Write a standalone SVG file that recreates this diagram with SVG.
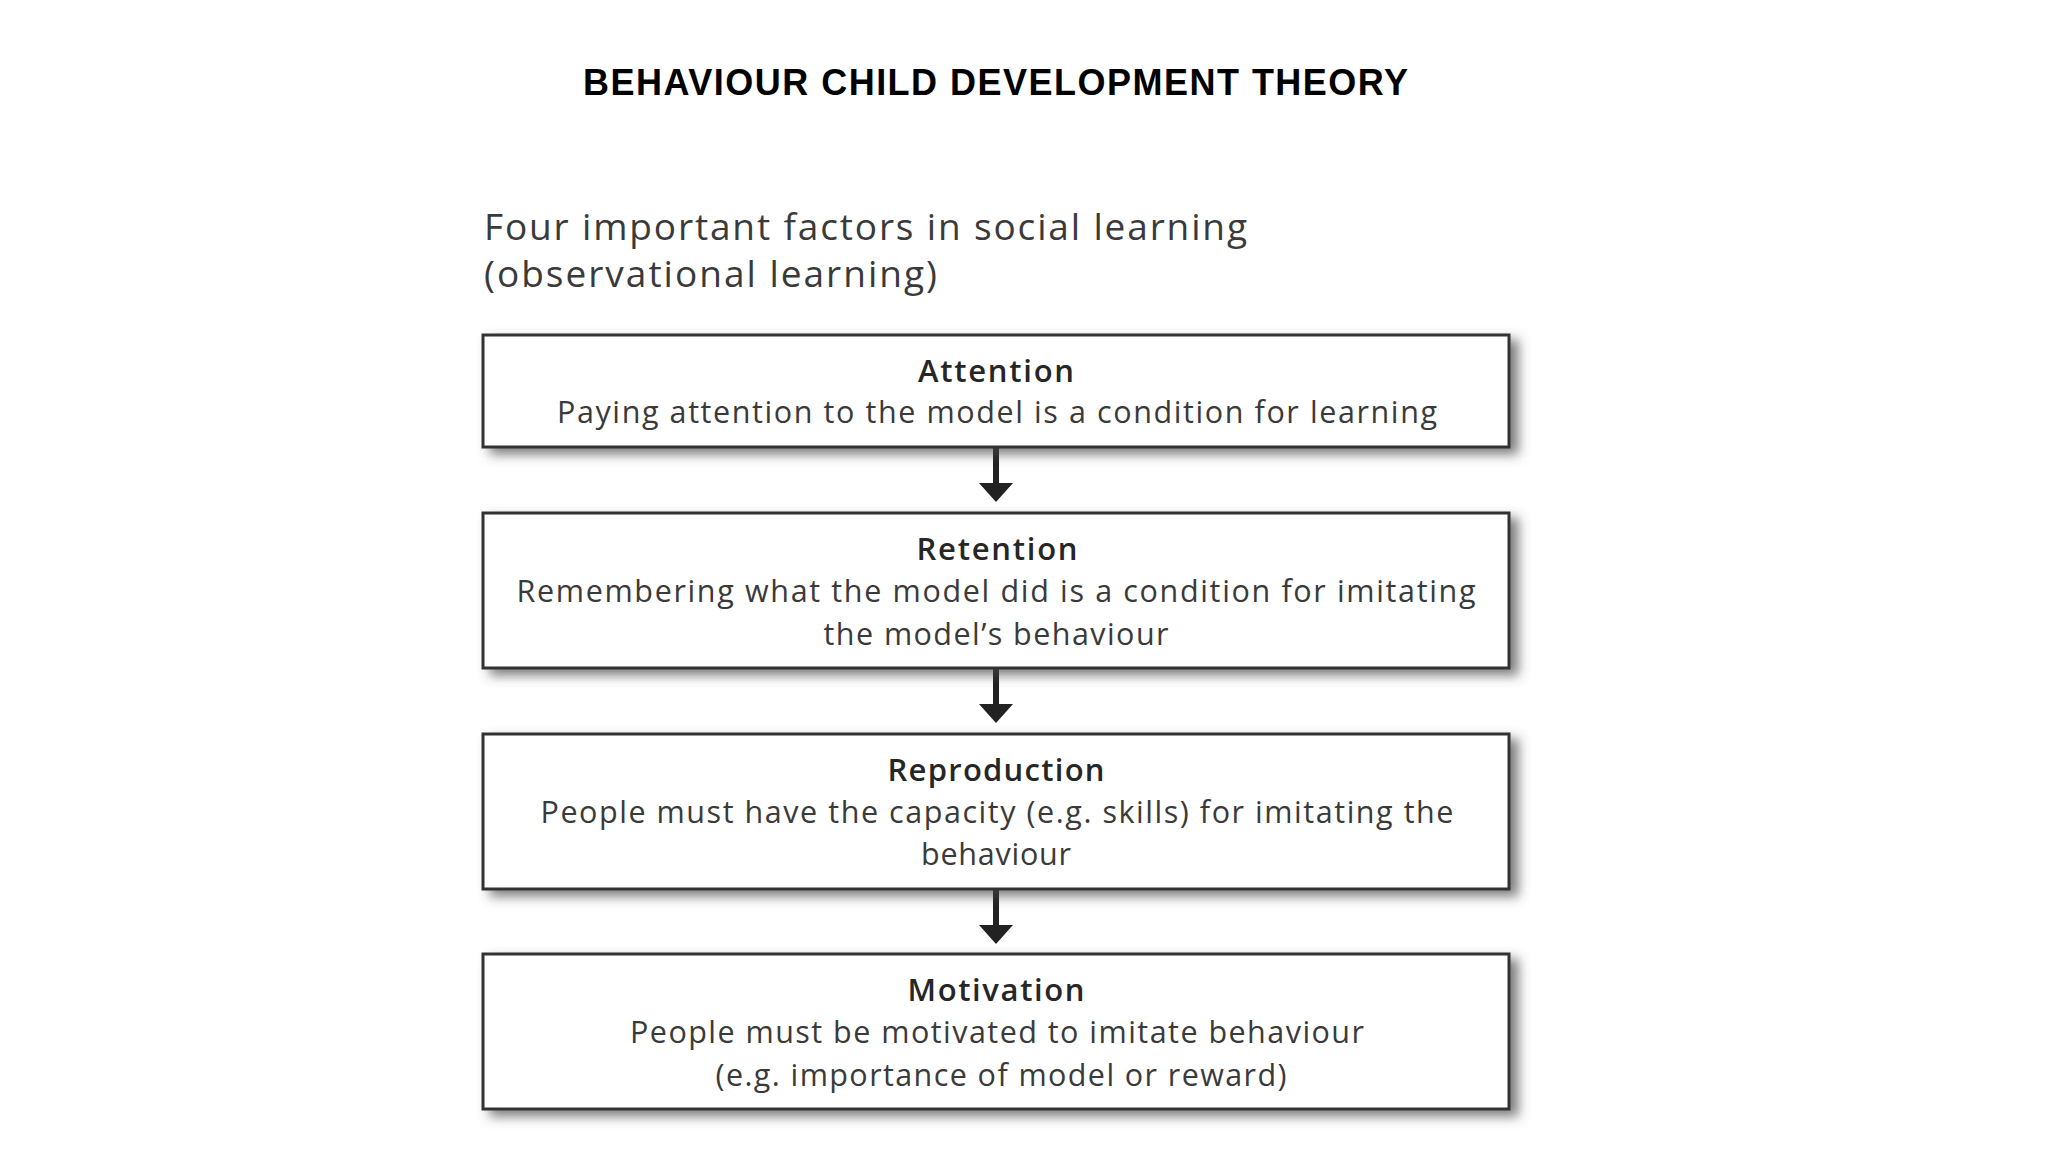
<svg xmlns="http://www.w3.org/2000/svg" width="2048" height="1152" viewBox="0 0 2048 1152">
  <defs>
    <filter id="shadow" x="-5%" y="-20%" width="115%" height="150%">
      <feDropShadow dx="8" dy="6" stdDeviation="6" flood-color="#444" flood-opacity="0.7"/>
    </filter>
  </defs>
  <style>
    .title { font-family: "Liberation Sans", Arial, sans-serif; font-weight: bold; font-size: 36px; fill: #000; }
    .intro { font-family: "Open Sans", "Noto Sans", sans-serif; font-size: 37px; fill: #3a3a3a; }
    .box { fill: #fff; stroke: #333; stroke-width: 3; filter: url(#shadow); }
    .head { font-family: "Open Sans", "Noto Sans", sans-serif; font-weight: 600; font-size: 31px; fill: #262626; text-anchor: middle; }
    .body { font-family: "Open Sans", "Noto Sans", sans-serif; font-size: 30.5px; fill: #3a3a3a; text-anchor: middle; }
    .conn { stroke: #222; stroke-width: 6; fill: none; }
  </style>
  <rect x="0" y="0" width="2048" height="1152" fill="#ffffff"/>

  <g id="title">
    <text class="title" x="583" y="95" textLength="825">BEHAVIOUR CHILD DEVELOPMENT THEORY</text>
  </g>

  <g id="intro">
    <text class="intro" x="484" y="240" textLength="763">Four important factors in social learning</text>
    <text class="intro" x="484" y="287" textLength="453">(observational learning)</text>
  </g>

  <g id="connectors">
    <line class="conn" x1="996" y1="448" x2="996" y2="485"/>
    <polygon points="979,483 1013,483 996,502" fill="#222"/>
    <line class="conn" x1="996" y1="669" x2="996" y2="706"/>
    <polygon points="979,704 1013,704 996,723" fill="#222"/>
    <line class="conn" x1="996" y1="890" x2="996" y2="927"/>
    <polygon points="979,925 1013,925 996,944" fill="#222"/>
  </g>

  <g id="attention">
    <rect class="box" x="483" y="335" width="1026" height="112"/>
    <text class="head" x="996" y="382" textLength="156">Attention</text>
    <text class="body" x="997" y="423" textLength="880">Paying attention to the model is a condition for learning</text>
  </g>

  <g id="retention">
    <rect class="box" x="483" y="513" width="1026" height="155"/>
    <text class="head" x="997" y="560" textLength="161">Retention</text>
    <text class="body" x="996" y="602" textLength="959">Remembering what the model did is a condition for imitating</text>
    <text class="body" x="996" y="645" textLength="345">the model’s behaviour</text>
  </g>

  <g id="reproduction">
    <rect class="box" x="483" y="734" width="1026" height="155"/>
    <text class="head" x="996" y="781" textLength="217">Reproduction</text>
    <text class="body" x="997" y="823" textLength="913">People must have the capacity (e.g. skills) for imitating the</text>
    <text class="body" x="996" y="865" textLength="150">behaviour</text>
  </g>

  <g id="motivation">
    <rect class="box" x="483" y="954" width="1026" height="155"/>
    <text class="head" x="996" y="1001" textLength="177">Motivation</text>
    <text class="body" x="997" y="1043" textLength="734">People must be motivated to imitate behaviour</text>
    <text class="body" x="1001" y="1086" textLength="571">(e.g. importance of model or reward)</text>
  </g>
</svg>
